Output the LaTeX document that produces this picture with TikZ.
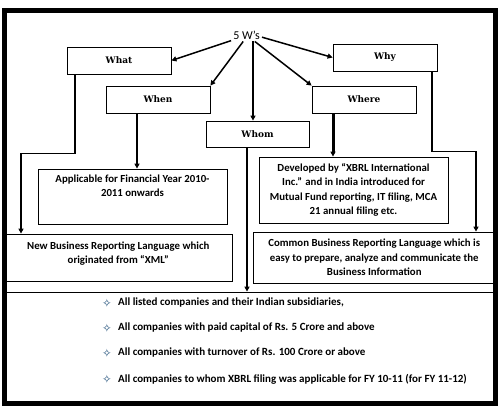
\documentclass[tikz,border=0pt]{standalone}
\usepackage{fontspec}
\setmainfont{Carlito}
\newfontfamily\headfont{DejaVu Serif}
\newfontfamily\symfont{DejaVu Sans}
\usepackage{tikz}
\usetikzlibrary{arrows.meta,positioning,calc}
\definecolor{bulletblue}{HTML}{1F4E79}

\begin{document}
\begin{tikzpicture}[x=1pt, y=-1pt, every node/.style={font=\bfseries\fontsize{10.8}{14.5}\selectfont}, box/.style={draw, line width=0.8pt, inner sep=0pt}, head/.style={box, minimum width=104pt, minimum height=27pt, font=\headfont\bfseries\fontsize{9}{11}\selectfont}, txt/.style={align=center, inner sep=0pt}, arr/.style={-{Triangle[width=5pt,length=5pt]}, line width=1.5pt}, item/.style={anchor=west, inner sep=0pt, font=\bfseries\fontsize{11}{14}\selectfont}, bullet/.style={inner sep=0pt, text=bulletblue, font=\symfont\fontsize{11.5}{11.5}\selectfont}]
\useasboundingbox (0,0) rectangle (500,406);
\draw[line width=5pt] (4.5,10.5) rectangle (495.5,403.5);
% the five questions
\node[inner sep=2pt, font=\fontsize{12}{14}\selectfont] (fivew) at (246.5,35) {5 W’s};
\node[head] (what) at (119,60.5) {What};
\node[head] (why) at (385,57.5) {Why};
\node[head] (when) at (158,99.5) {When};
\node[head] (where) at (364,99.5) {Where};
\node[head, minimum width=103pt, minimum height=26pt] (whom) at (257.5,134) {Whom};
% answers
\node[box, minimum width=189pt, minimum height=55pt] (appl) at (132.5,196.5) {};
\node[txt, below=6pt of appl.north] (appltext) {Applicable for Financial Year 2010-\\2011 onwards};
\node[box, minimum width=189pt, minimum height=66pt, align=center] (dev) at (353.5,190) {Developed by “XBRL International\\Inc.” and in India introduced for\\Mutual Fund reporting, IT filing, MCA\\21 annual filing etc.};
\node[box, minimum width=227.5pt, minimum height=47pt] (newbl) at (118.25,257.5) {};
\node[txt, below=8pt of newbl.north] (newbltext) {New Business Reporting Language which\\originated from “XML”};
\node[box, minimum width=242.5pt, minimum height=51pt, align=center] (common) at (374.25,257.5) {Common Business Reporting Language which is\\easy to prepare, analyze and communicate the\\Business Information};
\node[box, minimum width=491pt, minimum height=111.5pt] (listbox) at (250,347.75) {};
% whom list
\node[item] (item1) at (118,303) {All listed companies and their Indian subsidiaries,};
\node[item] (item2) at (118,328) {All companies with paid capital of Rs. 5 Crore and above};
\node[item] (item3) at (118,353) {All companies with turnover of Rs. 100 Crore or above};
\node[item] (item4) at (118,379) {All companies to whom XBRL filing was applicable for FY 10-11 (for FY 11-12)};
\node[bullet, left=6pt of item1] (dot1) {✧};
\node[bullet, left=6pt of item2] (dot2) {✧};
\node[bullet, left=6pt of item3] (dot3) {✧};
\node[bullet, left=6pt of item4] (dot4) {✧};
% connectors
\coordinate (whomin) at ([xshift=-4.5pt]whom.north);
\draw[arr] (fivew.200) -- (what.east);
\draw[arr] (fivew.243) -- (when.north east);
\draw[arr] (fivew.south -| whomin) -- (whomin);
\draw[arr] (fivew.322) -- (where.north west);
\draw[arr] (fivew.352) -- (why.west);
\draw[arr] ([xshift=-44pt]what.south) -- ++(0,79) -| ([xshift=-97.25pt]newbl.north);
\draw[arr] ([xshift=-21pt]when.south) -- ([xshift=-21pt]when.south |- appl.north);
\draw[arr, line width=3pt] ([xshift=-31pt]where.south) -- ([xshift=-31pt]where.south |- dev.north);
\draw[arr] ([xshift=-10.5pt]whom.south) -- ([xshift=-10.5pt]whom.south |- listbox.north);
\draw[arr] ([xshift=47pt]why.south) -- ++(0,80) -| ([xshift=101.75pt]common.north);
\end{tikzpicture}
\end{document}
